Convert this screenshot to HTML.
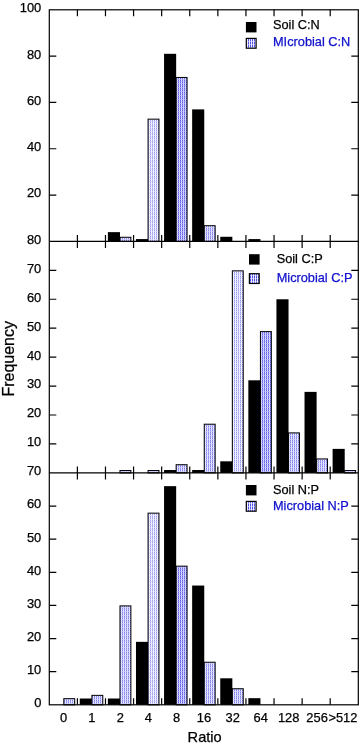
<!DOCTYPE html><html><head><meta charset="utf-8"><title>Ratio histograms</title><style>
html,body{margin:0;padding:0;background:#fff;}body{width:360px;height:746px;overflow:hidden;}
svg{display:block;}text{font-family:"Liberation Sans",Arial,Helvetica,sans-serif;stroke:currentColor;stroke-width:0.25px;}
</style></head><body>
<svg width="360" height="746" viewBox="0 0 360 746">
<defs><pattern id="pm" patternUnits="userSpaceOnUse" width="2" height="4"><rect x="0" y="0" width="1" height="1" fill="#8080ee"/><rect x="1" y="0" width="1" height="1" fill="#f0f0ff"/><rect x="0" y="1" width="1" height="1" fill="#a8a8f6"/><rect x="1" y="1" width="1" height="1" fill="#d4d4fc"/><rect x="0" y="2" width="1" height="1" fill="#8080ee"/><rect x="1" y="2" width="1" height="1" fill="#f0f0ff"/><rect x="0" y="3" width="1" height="1" fill="#c0c0fa"/><rect x="1" y="3" width="1" height="1" fill="#d4d4fc"/></pattern><pattern id="pl" patternUnits="userSpaceOnUse" width="2" height="4"><rect x="0" y="0" width="1" height="1" fill="#9c9cf2"/><rect x="1" y="0" width="1" height="1" fill="#fafaff"/><rect x="0" y="1" width="1" height="1" fill="#c0c0fa"/><rect x="1" y="1" width="1" height="1" fill="#e4e4fe"/><rect x="0" y="2" width="1" height="1" fill="#9c9cf2"/><rect x="1" y="2" width="1" height="1" fill="#fafaff"/><rect x="0" y="3" width="1" height="1" fill="#d4d4fc"/><rect x="1" y="3" width="1" height="1" fill="#e4e4fe"/></pattern><pattern id="pd" patternUnits="userSpaceOnUse" width="2" height="4"><rect x="0" y="0" width="1" height="1" fill="#6060e8"/><rect x="1" y="0" width="1" height="1" fill="#e4e4ff"/><rect x="0" y="1" width="1" height="1" fill="#8c8cf0"/><rect x="1" y="1" width="1" height="1" fill="#c0c0fa"/><rect x="0" y="2" width="1" height="1" fill="#6060e8"/><rect x="1" y="2" width="1" height="1" fill="#e4e4ff"/><rect x="0" y="3" width="1" height="1" fill="#a8a8f6"/><rect x="1" y="3" width="1" height="1" fill="#c0c0fa"/></pattern><pattern id="pv" patternUnits="userSpaceOnUse" width="2" height="3"><rect width="2" height="3" fill="#eeeeff"/><rect x="0" y="0" width="1" height="2" fill="#5050e6"/><rect x="0" y="2" width="1" height="1" fill="#a0a0f6"/></pattern></defs>
<rect width="360" height="746" fill="#fff"/>
<rect x="107.88" y="232.14" width="12.1" height="9.26" fill="#000"/>
<rect x="119.98" y="237.27" width="10.9" height="4.13" fill="url(#pm)" stroke="#000" stroke-width="1"/>
<rect x="135.97" y="239.08" width="12.1" height="2.32" fill="#000"/>
<rect x="148.07" y="119.15" width="10.9" height="122.25" fill="url(#pl)" stroke="#000" stroke-width="1"/>
<rect x="164.06" y="53.8" width="12.1" height="187.6" fill="#000"/>
<rect x="176.16" y="77.46" width="10.9" height="163.94" fill="url(#pd)" stroke="#000" stroke-width="1"/>
<rect x="192.15" y="109.39" width="12.1" height="132.01" fill="#000"/>
<rect x="204.25" y="225.69" width="10.9" height="15.71" fill="url(#pm)" stroke="#000" stroke-width="1"/>
<rect x="220.25" y="236.77" width="12.1" height="4.63" fill="#000"/>
<rect x="248.34" y="239.08" width="12.1" height="2.32" fill="#000"/>
<rect x="119.98" y="470.51" width="10.9" height="2.39" fill="url(#pm)" stroke="#000" stroke-width="1"/>
<rect x="148.07" y="470.51" width="10.9" height="2.39" fill="url(#pm)" stroke="#000" stroke-width="1"/>
<rect x="164.06" y="470.01" width="12.1" height="2.89" fill="#000"/>
<rect x="176.16" y="464.72" width="10.9" height="8.18" fill="url(#pm)" stroke="#000" stroke-width="1"/>
<rect x="192.15" y="470.01" width="12.1" height="2.89" fill="#000"/>
<rect x="204.25" y="424.21" width="10.9" height="48.69" fill="url(#pm)" stroke="#000" stroke-width="1"/>
<rect x="220.25" y="461.32" width="12.1" height="11.57" fill="#000"/>
<rect x="232.35" y="270.84" width="10.9" height="202.06" fill="url(#pl)" stroke="#000" stroke-width="1"/>
<rect x="248.34" y="380.3" width="12.1" height="92.6" fill="#000"/>
<rect x="260.44" y="331.61" width="10.9" height="141.29" fill="url(#pd)" stroke="#000" stroke-width="1"/>
<rect x="276.43" y="299.27" width="12.1" height="173.62" fill="#000"/>
<rect x="288.53" y="432.89" width="10.9" height="40.01" fill="url(#pm)" stroke="#000" stroke-width="1"/>
<rect x="304.52" y="391.88" width="12.1" height="81.02" fill="#000"/>
<rect x="316.62" y="458.93" width="10.9" height="13.97" fill="url(#pm)" stroke="#000" stroke-width="1"/>
<rect x="332.61" y="448.88" width="12.1" height="24.02" fill="#000"/>
<rect x="344.71" y="470.51" width="10.9" height="2.39" fill="url(#pm)" stroke="#000" stroke-width="1"/>
<rect x="63.8" y="698.67" width="10.9" height="6.13" fill="url(#pm)" stroke="#000" stroke-width="1"/>
<rect x="79.79" y="698.51" width="12.1" height="6.29" fill="#000"/>
<rect x="91.89" y="695.36" width="10.9" height="9.44" fill="url(#pm)" stroke="#000" stroke-width="1"/>
<rect x="107.88" y="698.51" width="12.1" height="6.29" fill="#000"/>
<rect x="119.98" y="605.91" width="10.9" height="98.89" fill="url(#pm)" stroke="#000" stroke-width="1"/>
<rect x="135.97" y="641.86" width="12.1" height="62.94" fill="#000"/>
<rect x="148.07" y="513.15" width="10.9" height="191.65" fill="url(#pl)" stroke="#000" stroke-width="1"/>
<rect x="164.06" y="486.15" width="12.1" height="218.65" fill="#000"/>
<rect x="176.16" y="566.16" width="10.9" height="138.64" fill="url(#pd)" stroke="#000" stroke-width="1"/>
<rect x="192.15" y="585.54" width="12.1" height="119.26" fill="#000"/>
<rect x="204.25" y="662.23" width="10.9" height="42.57" fill="url(#pm)" stroke="#000" stroke-width="1"/>
<rect x="220.25" y="678.3" width="12.1" height="26.5" fill="#000"/>
<rect x="232.35" y="688.74" width="10.9" height="16.06" fill="url(#pm)" stroke="#000" stroke-width="1"/>
<rect x="248.34" y="698.17" width="12.1" height="6.63" fill="#000"/>
<g stroke="#000" stroke-width="1.2" fill="none">
<rect x="49.3" y="9.8" width="309" height="695"/>
<line x1="49.3" y1="241.4" x2="358.3" y2="241.4"/>
<line x1="49.3" y1="472.9" x2="358.3" y2="472.9"/>
<path d="M77.39 9.8v6.5M77.39 241.4v-6.5M105.48 9.8v6.5M105.48 241.4v-6.5M133.57 9.8v6.5M133.57 241.4v-6.5M161.66 9.8v6.5M161.66 241.4v-6.5M189.75 9.8v6.5M189.75 241.4v-6.5M217.85 9.8v6.5M217.85 241.4v-6.5M245.94 9.8v6.5M245.94 241.4v-6.5M274.03 9.8v6.5M274.03 241.4v-6.5M302.12 9.8v6.5M302.12 241.4v-6.5M330.21 9.8v6.5M330.21 241.4v-6.5M77.39 241.4v6.5M77.39 472.9v-6.5M105.48 241.4v6.5M105.48 472.9v-6.5M133.57 241.4v6.5M133.57 472.9v-6.5M161.66 241.4v6.5M161.66 472.9v-6.5M189.75 241.4v6.5M189.75 472.9v-6.5M217.85 241.4v6.5M217.85 472.9v-6.5M245.94 241.4v6.5M245.94 472.9v-6.5M274.03 241.4v6.5M274.03 472.9v-6.5M302.12 241.4v6.5M302.12 472.9v-6.5M330.21 241.4v6.5M330.21 472.9v-6.5M77.39 472.9v6.5M77.39 704.8v-6.5M105.48 472.9v6.5M105.48 704.8v-6.5M133.57 472.9v6.5M133.57 704.8v-6.5M161.66 472.9v6.5M161.66 704.8v-6.5M189.75 472.9v6.5M189.75 704.8v-6.5M217.85 472.9v6.5M217.85 704.8v-6.5M245.94 472.9v6.5M245.94 704.8v-6.5M274.03 472.9v6.5M274.03 704.8v-6.5M302.12 472.9v6.5M302.12 704.8v-6.5M330.21 472.9v6.5M330.21 704.8v-6.5M49.3 195.08h7M358.3 195.08h-7M49.3 148.76h7M358.3 148.76h-7M49.3 102.44h7M358.3 102.44h-7M49.3 56.12h7M358.3 56.12h-7M49.3 443.96h7M358.3 443.96h-7M49.3 415.02h7M358.3 415.02h-7M49.3 386.09h7M358.3 386.09h-7M49.3 357.15h7M358.3 357.15h-7M49.3 328.21h7M358.3 328.21h-7M49.3 299.27h7M358.3 299.27h-7M49.3 270.34h7M358.3 270.34h-7M49.3 671.67h7M358.3 671.67h-7M49.3 638.54h7M358.3 638.54h-7M49.3 605.41h7M358.3 605.41h-7M49.3 572.29h7M358.3 572.29h-7M49.3 539.16h7M358.3 539.16h-7M49.3 506.03h7M358.3 506.03h-7"/>
</g>
<g font-size="12.9" fill="#000" color="#000" text-anchor="end">
<text x="41.3" y="12.2">100</text>
<text x="41.3" y="58.52">80</text>
<text x="41.3" y="104.84">60</text>
<text x="41.3" y="151.16">40</text>
<text x="41.3" y="197.48">20</text>
<text x="41.3" y="243.8">80</text>
<text x="41.3" y="272.74">70</text>
<text x="41.3" y="301.67">60</text>
<text x="41.3" y="330.61">50</text>
<text x="41.3" y="359.55">40</text>
<text x="41.3" y="388.49">30</text>
<text x="41.3" y="417.42">20</text>
<text x="41.3" y="446.36">10</text>
<text x="41.3" y="475.3">70</text>
<text x="41.3" y="508.43">60</text>
<text x="41.3" y="541.56">50</text>
<text x="41.3" y="574.69">40</text>
<text x="41.3" y="607.81">30</text>
<text x="41.3" y="640.94">20</text>
<text x="41.3" y="674.07">10</text>
<text x="41.3" y="707.2">0</text>
</g>
<g font-size="12.9" fill="#000" color="#000" text-anchor="middle">
<text x="63.55" y="721.8">0</text>
<text x="91.94" y="721.8">1</text>
<text x="120.23" y="721.8">2</text>
<text x="148.32" y="721.8">4</text>
<text x="176.61" y="721.8">8</text>
<text x="203.9" y="721.8">16</text>
<text x="232.69" y="721.8">32</text>
<text x="260.68" y="721.8">64</text>
<text x="288.67" y="721.8">128</text>
<text x="317.06" y="721.8">256</text>
<text x="342.95" y="721.8">&gt;512</text>
</g>
<text x="187.6" y="742" font-size="14.6" fill="#000" color="#000">Ratio</text>
<text transform="translate(14.0 396.6) rotate(-90)" font-size="16" fill="#000" color="#000">Frequency</text>
<rect x="245.9" y="22" width="10.6" height="10.4" fill="#000"/>
<rect x="246.3" y="38.4" width="9.8" height="9.8" fill="url(#pv)" stroke="#000" stroke-width="1.2"/>
<text x="273" y="29.1" font-size="12.75" fill="#000" color="#000">Soil C:N</text>
<text x="273" y="45.6" font-size="12.75" fill="#1010cc" color="#1010cc">MIcrobial C:N</text>
<rect x="249" y="254.2" width="10.6" height="10.4" fill="#000"/>
<rect x="249.4" y="273.7" width="9.8" height="9.8" fill="url(#pv)" stroke="#000" stroke-width="1.2"/>
<text x="276.7" y="263.3" font-size="12.75" fill="#000" color="#000">Soil C:P</text>
<text x="276.7" y="282" font-size="12.75" fill="#1010cc" color="#1010cc">Microbial C:P</text>
<rect x="245.9" y="485" width="10.6" height="10.4" fill="#000"/>
<rect x="246.3" y="501.4" width="9.8" height="9.8" fill="url(#pv)" stroke="#000" stroke-width="1.2"/>
<text x="273" y="494" font-size="12.75" fill="#000" color="#000">Soil N:P</text>
<text x="273" y="509.5" font-size="12.75" fill="#1010cc" color="#1010cc">Microbial N:P</text>
</svg></body></html>
